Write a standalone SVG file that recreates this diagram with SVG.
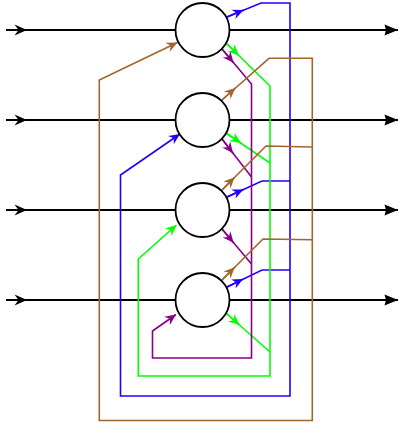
<svg xmlns="http://www.w3.org/2000/svg" width="406" height="423" viewBox="0 0 406 423">
<style>
.sig{fill:none;stroke:#000;stroke-width:1.8}
.node{fill:#fff;stroke:#000;stroke-width:1.8}
.w{fill:none;stroke-width:1.6;stroke-linejoin:miter}
.b{stroke:#2200ff}
.g{stroke:#00ff00}
.p{stroke:#880088}
.r{stroke:#a0662e}
</style>
<defs>
<marker id="ab" markerUnits="userSpaceOnUse" viewBox="-12 -6 13 12" markerWidth="13" markerHeight="12" refX="0" refY="0" orient="auto" overflow="visible"><path d="M0,0 L-11,-5 L-7.5,0 L-11,5 Z" fill="#2200ff"/></marker>
<marker id="ag" markerUnits="userSpaceOnUse" viewBox="-12 -6 13 12" markerWidth="13" markerHeight="12" refX="0" refY="0" orient="auto" overflow="visible"><path d="M0,0 L-11,-5 L-7.5,0 L-11,5 Z" fill="#00ff00"/></marker>
<marker id="ap" markerUnits="userSpaceOnUse" viewBox="-12 -6 13 12" markerWidth="13" markerHeight="12" refX="0" refY="0" orient="auto" overflow="visible"><path d="M0,0 L-11,-5 L-7.5,0 L-11,5 Z" fill="#880088"/></marker>
<marker id="ar" markerUnits="userSpaceOnUse" viewBox="-12 -6 13 12" markerWidth="13" markerHeight="12" refX="0" refY="0" orient="auto" overflow="visible"><path d="M0,0 L-11,-5 L-7.5,0 L-11,5 Z" fill="#a0662e"/></marker>
<marker id="kin" markerUnits="userSpaceOnUse" viewBox="-13 -6 14 12" markerWidth="14" markerHeight="12" refX="0" refY="0" orient="auto" overflow="visible"><path d="M0,0 L-12.5,-5.5 L-8.5,0 L-12.5,5.5 Z" fill="#000"/></marker>
<marker id="kout" markerUnits="userSpaceOnUse" viewBox="-14 -6 15 12" markerWidth="15" markerHeight="12" refX="0" refY="0" orient="auto" overflow="visible"><path d="M0,0 L-13.5,-5.5 L-12,0 L-13.5,5.5 Z" fill="#000"/></marker>
</defs>
<g id="signals">
<path class="sig" d="M6,30 H398" marker-end="url(#kout)"/>
<path class="sig" d="M6,30 H27" marker-end="url(#kin)"/>
<path class="sig" d="M6,120 H398" marker-end="url(#kout)"/>
<path class="sig" d="M6,120 H27" marker-end="url(#kin)"/>
<path class="sig" d="M6,210 H398" marker-end="url(#kout)"/>
<path class="sig" d="M6,210 H27" marker-end="url(#kin)"/>
<path class="sig" d="M6,300 H398" marker-end="url(#kout)"/>
<path class="sig" d="M6,300 H27" marker-end="url(#kin)"/>
</g>
<g id="connectors">
<path class="w b" d="M227,17 L261,3 H290 V396 H120.5 V175 L180,134" marker-end="url(#ab)"/>
<path class="w b" d="M227,197 L262,181 H290"/>
<path class="w b" d="M227,287 L262,270 H290"/>
<path class="w b" d="M227,17 L243.6,10.1" marker-end="url(#ab)"/>
<path class="w b" d="M227,197 L243.4,189.5" marker-end="url(#ab)"/>
<path class="w b" d="M227,287 L243.2,279.1" marker-end="url(#ab)"/>
<path class="w g" d="M226,43 L270,86 V376 H138.3 V259 L176.5,225" marker-end="url(#ag)"/>
<path class="w g" d="M226,133 L270,163"/>
<path class="w g" d="M226,313 L270,352"/>
<path class="w g" d="M226,43 L238.9,55.6" marker-end="url(#ag)"/>
<path class="w g" d="M226,133 L240.9,143.1" marker-end="url(#ag)"/>
<path class="w g" d="M226,313 L239.5,324.9" marker-end="url(#ag)"/>
<path class="w p" d="M222,49 L251.5,84 V358 H152.5 V331 L176,314.5" marker-end="url(#ap)"/>
<path class="w p" d="M222,139 L251.5,177"/>
<path class="w p" d="M222,229 L251.5,264"/>
<path class="w p" d="M222,49 L233.6,62.8" marker-end="url(#ap)"/>
<path class="w p" d="M222,139 L233,153.2" marker-end="url(#ap)"/>
<path class="w p" d="M222,229 L233.6,242.8" marker-end="url(#ap)"/>
<path class="w r" d="M222,100 L269,58.3 H312.3 V420.5 H99.3 V80 L177.5,42.5" marker-end="url(#ar)"/>
<path class="w r" d="M222,190 L266,146 L312.3,147"/>
<path class="w r" d="M222,280 L263,239 L312.3,239.7"/>
<path class="w r" d="M222,100 L235.4,88" marker-end="url(#ar)"/>
<path class="w r" d="M222,190 L234.7,177.3" marker-end="url(#ar)"/>
<path class="w r" d="M222,280 L234.7,267.3" marker-end="url(#ar)"/>
</g>
<g id="n1"><circle class="node" cx="202.5" cy="30" r="27"/></g>
<g id="n2"><circle class="node" cx="202.5" cy="120" r="27"/></g>
<g id="n3"><circle class="node" cx="202.5" cy="210" r="27"/></g>
<g id="n4"><circle class="node" cx="202.5" cy="300" r="27"/></g>
</svg>
